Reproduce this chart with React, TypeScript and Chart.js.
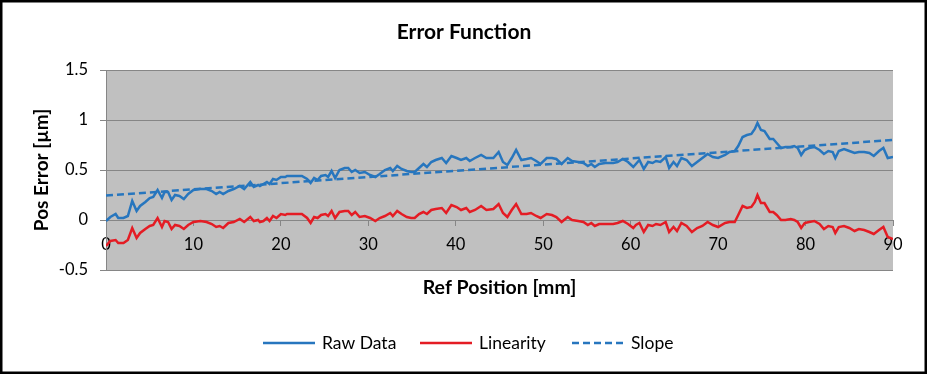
import React, { useEffect, useRef } from "react";
import { Chart, registerables } from "chart.js";

Chart.register(...registerables);

const chartTitle = "Error Function";
const xAxisTitle = "Ref Position [mm]";
const yAxisTitle = "Pos Error [µm]";
const seriesNames = ["Raw Data", "Linearity", "Slope"];

const refPos = [
  0, 0.5, 1.1, 1.4, 2.0, 2.5, 3.0, 3.5, 3.9, 4.5, 5.0, 5.4, 5.9, 6.4, 6.7, 7.1, 7.5, 7.9, 8.4, 8.9,
  9.4, 10.0, 10.8, 11.5, 12.1, 12.6, 13.0, 13.4, 14.0, 14.6, 15.3, 15.8, 16.5, 16.9, 17.4,
  17.6, 18.0, 18.4, 18.7, 19.1, 19.5, 20.0, 20.5, 20.7, 21.4, 22.4, 23.0, 23.4, 23.8, 24.2, 24.6,
  25.1, 25.4, 25.8, 26.2, 26.7, 27.3, 27.7, 28.1, 28.5, 29.0, 29.6, 30.2, 30.8, 31.3, 31.9, 32.5,
  32.8, 33.3, 33.8, 34.4, 34.9, 35.3, 35.8,
  36.3, 36.7, 37.2, 37.7, 38.4, 38.9, 39.5, 40.1, 40.6, 41.2, 41.6, 42.2, 42.9, 43.5, 44.3, 44.9,
  45.4, 45.9, 46.4, 46.9, 47.5, 48.1, 48.6, 49.2, 49.7, 50.4, 51.0, 51.5, 52.1, 52.8, 53.3, 54.0,
  54.6, 55.1, 55.5, 55.9, 56.4, 57.1, 58.0, 58.5, 59.1, 59.7, 60.3, 60.6, 61.0, 61.5, 62.0, 62.5,
  62.9, 63.4, 64.0, 64.4, 64.9, 65.3, 65.8, 66.4, 67.0, 67.6, 68.2, 68.8, 69.4, 70.0, 70.8, 71.3,
  71.9, 72.3,
  72.8, 73.3, 73.8, 74.2, 74.5, 74.9, 75.3, 75.9, 76.3, 76.7, 77.2, 77.7, 78.3, 78.7, 79.1, 79.5,
  79.9, 80.4, 81.0, 81.6, 82.1, 82.6, 83.1, 83.4, 83.8, 84.4, 85.0, 85.6, 86.1, 86.7, 87.3, 87.8,
  88.4, 88.9, 89.4, 90.0,
];

const rawData = [
  -0.01, 0.03, 0.06, 0.02, 0.02, 0.04, 0.19, 0.09, 0.14, 0.18, 0.22, 0.23, 0.30, 0.22, 0.28, 0.28, 0.20, 0.25, 0.24, 0.21,
  0.26, 0.30, 0.31, 0.31, 0.29, 0.26, 0.28, 0.26, 0.29, 0.31, 0.34, 0.31, 0.38, 0.33, 0.35,
  0.34, 0.36, 0.38, 0.36, 0.41, 0.40, 0.43, 0.43, 0.44, 0.44, 0.44, 0.41, 0.37, 0.42, 0.40, 0.44,
  0.45, 0.43, 0.49, 0.42, 0.50, 0.52, 0.52, 0.48, 0.50, 0.47, 0.48, 0.45, 0.43, 0.46, 0.50, 0.52,
  0.49, 0.54, 0.51, 0.49, 0.48, 0.48, 0.52,
  0.56, 0.53, 0.58, 0.60, 0.62, 0.57, 0.64, 0.62, 0.60, 0.62, 0.59, 0.62, 0.65, 0.62, 0.62, 0.68,
  0.58, 0.55, 0.62, 0.70, 0.60, 0.61, 0.62, 0.59, 0.56, 0.62, 0.62, 0.61, 0.56, 0.62, 0.59, 0.58,
  0.57, 0.54, 0.56, 0.53, 0.56, 0.57, 0.57, 0.58, 0.61, 0.58, 0.53, 0.56, 0.60, 0.51, 0.58, 0.57,
  0.59, 0.58, 0.63, 0.52, 0.58, 0.54, 0.62, 0.60, 0.54, 0.58, 0.62, 0.66, 0.63, 0.62, 0.65, 0.68,
  0.69, 0.74,
  0.83, 0.85, 0.86, 0.91, 0.97, 0.90, 0.89, 0.81, 0.81, 0.77, 0.72, 0.73, 0.73, 0.74, 0.72, 0.65,
  0.70, 0.72, 0.73, 0.70, 0.66, 0.69, 0.68, 0.62, 0.69, 0.71, 0.69, 0.67, 0.68, 0.68, 0.67, 0.64,
  0.69, 0.72, 0.62, 0.63,
];

const linearity = [
  -0.26, -0.21, -0.20, -0.23, -0.23, -0.20, -0.08, -0.18, -0.13, -0.09, -0.06, -0.05, 0.02, -0.07, -0.01, -0.02, -0.09, -0.05, -0.06, -0.09,
  -0.05, -0.02, -0.01, -0.02, -0.04, -0.07, -0.06, -0.08, -0.03, -0.02, 0.01, -0.02, 0.03, -0.01, 0.00,
  -0.02, -0.01, 0.02, -0.01, 0.04, 0.02, 0.06, 0.05, 0.06, 0.06, 0.06, 0.02, -0.03, 0.03, 0.02, 0.05,
  0.06, 0.04, 0.09, 0.02, 0.08, 0.09, 0.09, 0.05, 0.08, 0.03, 0.04, 0.02, -0.01, 0.02, 0.04, 0.07,
  0.04, 0.09, 0.06, 0.03, 0.02, 0.02, 0.06,
  0.08, 0.06, 0.10, 0.11, 0.12, 0.07, 0.15, 0.13, 0.10, 0.12, 0.08, 0.10, 0.14, 0.10, 0.11, 0.16,
  0.07, 0.03, 0.10, 0.16, 0.06, 0.06, 0.07, 0.04, 0.02, 0.06, 0.05, 0.03, -0.02, 0.03, 0.00, -0.01,
  -0.02, -0.05, -0.03, -0.06, -0.04, -0.04, -0.04, -0.03, -0.01, -0.04, -0.08, -0.05, -0.03, -0.12, -0.05, -0.06,
  -0.04, -0.05, -0.02, -0.12, -0.07, -0.11, -0.03, -0.06, -0.12, -0.08, -0.06, -0.02, -0.05, -0.07, -0.03, -0.02,
  -0.02, 0.05,
  0.14, 0.12, 0.13, 0.18, 0.25, 0.17, 0.17, 0.08, 0.08, 0.05, 0.00, 0.00, 0.01, 0.00, -0.02, -0.08,
  -0.03, -0.02, -0.01, -0.04, -0.09, -0.06, -0.07, -0.13, -0.07, -0.06, -0.08, -0.11, -0.09, -0.10, -0.12, -0.14,
  -0.10, -0.07, -0.17, -0.19,
];

const slopeX = [0, 90];
const slopeY = [0.245, 0.8];

const xTicks = [0, 10, 20, 30, 40, 50, 60, 70, 80, 90];
const yTicks = [-0.5, 0, 0.5, 1, 1.5];

const BLUE = "#2776BE";
const RED = "#E41C24";
const FONT = "Lato, 'Open Sans', sans-serif";

const decorPlugin = {
  id: "decor",
  beforeDraw(chart: any) {
    const { ctx, chartArea } = chart;
    ctx.save();
    ctx.fillStyle = "#ffffff";
    ctx.fillRect(0, 0, chart.width, chart.height);
    ctx.fillStyle = "#C0C0C0";
    ctx.fillRect(chartArea.left, chartArea.top, chartArea.right - chartArea.left, chartArea.bottom - chartArea.top);
    ctx.restore();
  },
  afterDraw(chart: any) {
    const { ctx, chartArea } = chart;
    ctx.save();
    ctx.fillStyle = "#000";
    ctx.textBaseline = "middle";
    // title
    ctx.font = `bold 21px ${FONT}`;
    ctx.textAlign = "center";
    ctx.fillText(chartTitle, 464, 32);
    // x title
    ctx.font = `bold 19.5px ${FONT}`;
    ctx.fillText(xAxisTitle, (chartArea.left + chartArea.right) / 2, 288);
    // y title
    ctx.font = `bold 19px ${FONT}`;
    ctx.save();
    ctx.translate(42, 170);
    ctx.rotate(-Math.PI / 2);
    ctx.fillText(yAxisTitle, 0, 0);
    ctx.restore();
    // legend
    const items = chart.data.datasets;
    const starts = [263, 420, 572];
    const ly = 343;
    ctx.font = `17.5px ${FONT}`;
    ctx.textAlign = "left";
    items.forEach((ds: any, i: number) => {
      const x0 = starts[i];
      ctx.save();
      ctx.strokeStyle = ds.borderColor;
      ctx.lineWidth = 2.5;
      ctx.setLineDash(ds.borderDash || []);
      ctx.beginPath();
      ctx.moveTo(x0, ly);
      ctx.lineTo(x0 + 52, ly);
      ctx.stroke();
      ctx.restore();
      ctx.fillStyle = "#000";
      ctx.fillText(ds.label, x0 + 59, ly);
    });
    // outer border
    ctx.strokeStyle = "#000";
    ctx.lineWidth = 2.5;
    ctx.setLineDash([]);
    ctx.strokeRect(1.25, 1.25, chart.width - 2.5, chart.height - 2.5);
    ctx.restore();
  },
};

export default function App() {
  const ref = useRef<HTMLCanvasElement | null>(null);
  useEffect(() => {
    document.body.style.margin = "0";
    const canvas = ref.current;
    if (!canvas) return;
    const chart = new Chart(canvas, {
      type: "line",
      data: {
        datasets: [
          {
            label: seriesNames[0],
            data: refPos.map((x, i) => ({ x, y: rawData[i] })),
            borderColor: BLUE,
            borderWidth: 2.5,
            pointRadius: 0,
            tension: 0,
            fill: false,
          },
          {
            label: seriesNames[1],
            data: refPos.map((x, i) => ({ x, y: linearity[i] })),
            borderColor: RED,
            borderWidth: 2.5,
            pointRadius: 0,
            tension: 0,
            fill: false,
          },
          {
            label: seriesNames[2],
            data: slopeX.map((x, i) => ({ x, y: slopeY[i] })),
            borderColor: BLUE,
            borderWidth: 2.5,
            borderDash: [7, 4],
            pointRadius: 0,
            tension: 0,
            fill: false,
          },
        ],
      },
      options: {
        responsive: false,
        animation: false,
        devicePixelRatio: 1,
        layout: { padding: { top: 70, right: 34, bottom: 104, left: 0 } },
        plugins: {
          legend: { display: false },
          title: { display: false },
          tooltip: { enabled: false },
        },
        scales: {
          x: {
            type: "linear",
            position: { y: 0 } as any,
            min: 0,
            max: 90,
            afterBuildTicks: (scale: any) => {
              scale.ticks = xTicks.map((v) => ({ value: v }));
            },
            grid: {
              display: true,
              drawOnChartArea: false,
              drawTicks: true,
              tickLength: 5,
              color: "#868686",
            },
            border: { display: true, color: "#868686", width: 1 },
            ticks: {
              color: "#000",
              font: { family: FONT, size: 16.5 },
              padding: 10,
              maxRotation: 0,
              autoSkip: false,
              callback: (v: any) => String(v),
            },
          },
          y: {
            type: "linear",
            min: -0.5,
            max: 1.5,
            afterBuildTicks: (scale: any) => {
              scale.ticks = yTicks.map((v) => ({ value: v }));
            },
            afterFit: (scale: any) => {
              scale.width = 106;
            },
            grid: {
              display: true,
              drawTicks: true,
              tickLength: 6,
              color: "#868686",
            },
            border: { display: true, color: "#868686", width: 1 },
            ticks: {
              color: "#000",
              font: { family: FONT, size: 16.5 },
              padding: 12,
              callback: (v: any) => String(v),
            },
          },
        },
      },
      plugins: [decorPlugin],
    });
    return () => chart.destroy();
  }, []);
  return (
    <canvas
      ref={ref}
      width={927}
      height={374}
      style={{ display: "block", width: 927, height: 374 }}
    />
  );
}
